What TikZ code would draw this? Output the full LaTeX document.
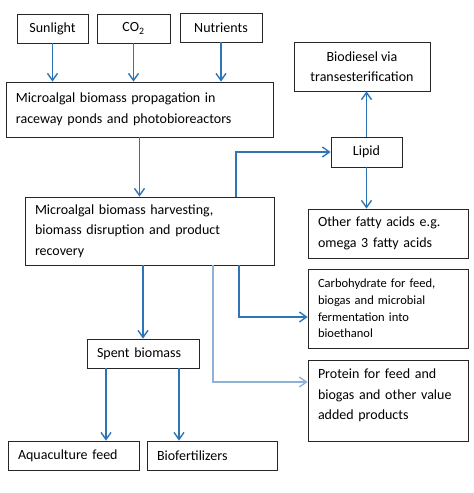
\documentclass[tikz,border=0pt]{standalone}
\usepackage{fontspec}
\setmainfont{Carlito}
\usepackage{tikz}
\usetikzlibrary{arrows.meta}
\usepackage{xcolor}
\definecolor{myblue}{RGB}{46,117,182}
\colorlet{mylightblue}{myblue!55}
\colorlet{myframe}{black!85}

\begin{document}
\begin{tikzpicture}[x=1pt, y=-1pt,
		box/.style = {draw=myframe, line width=0.8pt, inner sep=0pt, align=center, font=\fontsize{14}{20.5}\selectfont},
		lbox/.style = {box, align=left, inner xsep=10pt},
		arr/.style = {color=myblue, line width=1.4pt, -{Straight Barb[length=7pt, width=10pt]}}]
		\useasboundingbox (0,0) rectangle (474,493);
		\node[box, minimum width=71, minimum height=29] (sun) at (52.5,28.5) {Sunlight};
		\node[box, minimum width=73, minimum height=29] (co2) at (133.5,28.5) {CO\textsubscript{2}};
		\node[box, minimum width=82, minimum height=29] (nutr) at (221,27.5) {Nutrients};
		\node[lbox, minimum width=267, minimum height=55, text width=247] (prop) at (139.5,109.5) {Microalgal biomass propagation in\\raceway ponds and photobioreactors};
		\node[lbox, minimum width=249, minimum height=68, text width=229] (harv) at (149.5,231) {Microalgal biomass harvesting,\\biomass disruption and product\\recovery};
		\node[box, minimum width=136, minimum height=49] (bio) at (362,66.5) {Biodiesel via\\transesterification};
		\node[box, minimum width=71, minimum height=30] (lipid) at (366.5,152) {Lipid};
		\node[lbox, minimum width=160, minimum height=49, text width=140] (other) at (388,233.5) {Other fatty acids e.g.\\omega 3 fatty acids};
		\node[lbox, minimum width=160, minimum height=79, text width=140, font=\fontsize{12.5}{16.7}\selectfont] (carb) at (388,308.5) {Carbohydrate for feed,\\biogas and microbial\\fermentation into\\bioethanol};
		\node[lbox, minimum width=160, text width=140, inner ysep=0pt, text height=18.5pt, text depth=62.5pt] (prot) at (388,400.5) {Protein for feed and\\biogas and other value\\added products};
		\node[lbox, minimum width=112, minimum height=29, text width=92] (spent) at (143,353.5) {Spent biomass};
		\node[lbox, minimum width=131, minimum height=29, text width=111] (aqua) at (73.5,455.5) {Aquaculture feed};
		\node[lbox, minimum width=130, minimum height=29, text width=110] (fert) at (212,455.5) {Biofertilizers};
		\coordinate (lipidturn) at (236,151);
		\coordinate (carbturn) at (239,317);
		\coordinate (protturn) at (213,382);
		\coordinate (aquadrop) at (106,0);
		\coordinate (fertdrop) at (179,0);
		\draw[arr] (sun.south) -- (sun.south |- prop.north);
		\draw[arr] (co2.south) -- (co2.south |- prop.north);
		\draw[arr] (nutr.south) -- (nutr.south |- prop.north);
		\draw[arr] (prop.south) -- (prop.south |- harv.north);
		\draw[arr] (harv.north -| lipidturn) |- (lipid.west);
		\draw[arr] (lipid.north) -- (lipid.north |- bio.south);
		\draw[arr] (lipid.south) -- (lipid.south |- other.north);
		\draw[arr] (harv.south -| carbturn) |- (carb.west |- carbturn);
		\draw[arr, color=mylightblue] (harv.south -| protturn) |- (prot.west |- protturn);
		\draw[arr] (harv.south -| spent.north) -- (spent.north);
		\draw[arr] (spent.south -| aquadrop) -- (aqua.north -| aquadrop);
		\draw[arr] (spent.south -| fertdrop) -- (fert.north -| fertdrop);
	\end{tikzpicture}
\end{document}
